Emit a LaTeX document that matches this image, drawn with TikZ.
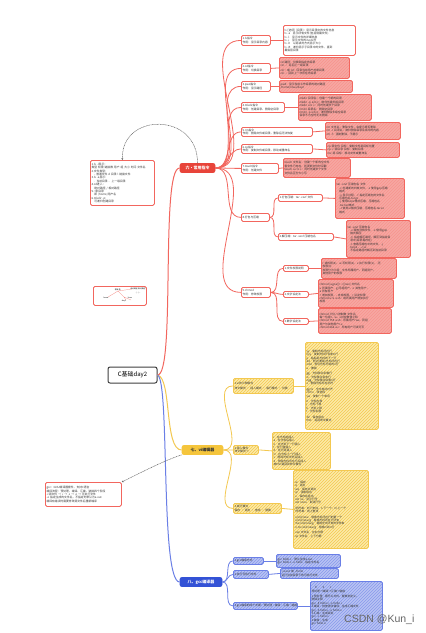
\documentclass[tikz,border=0pt]{standalone}
\usepackage{fontspec}
\newfontfamily\cjk{Noto Sans CJK SC}
\usetikzlibrary{patterns,arrows.meta}
\definecolor{rline}{HTML}{F2665E}
\definecolor{rfill}{HTML}{F7A7A2}
\definecolor{rdark}{HTML}{E8443A}
\definecolor{yline}{HTML}{F3C850}
\definecolor{yfill}{HTML}{FCEAA8}
\definecolor{ydark}{HTML}{F5C53C}
\definecolor{bline}{HTML}{6A7FE6}
\definecolor{bfill}{HTML}{B9C3F3}
\definecolor{bdark}{HTML}{3352D6}
\definecolor{txt}{HTML}{333333}
\tikzset{
  base/.style={font=\cjk\fontsize{2.8}{3.4}\selectfont, text=txt, align=left, inner sep=1.2pt, rounded corners=1.5pt, anchor=north west, line width=0.8pt},
  rlab/.style={base, draw=rline, fill=white},
  rdet/.style={base, draw=rline, preaction={fill=rfill}, pattern=north east lines, pattern color=rline!70},
  ylab/.style={base, draw=yline, preaction={fill=yfill}, pattern=north east lines, pattern color=yline},
  blab/.style={base, draw=bline, preaction={fill=bfill}, pattern=north east lines, pattern color=bline!80},
  note/.style={base, draw=rline, fill=white},
  rl/.style={draw=rline, line width=0.8pt},
  yl/.style={draw=yline, line width=0.8pt},
  bl/.style={draw=bline, line width=0.8pt},
  dl/.style={draw=gray!80!black, line width=0.5pt, dash pattern=on 1pt off 0.6pt, -{Stealth[length=2pt,width=2pt]}},
  mainb/.style={font=\cjk\fontsize{4}{4.5}\selectfont\bfseries, rounded corners=2pt, inner sep=1pt, minimum height=9pt, line width=0.8pt}
}
\begin{document}
\begin{tikzpicture}[x=1pt,y=-1pt]
\useasboundingbox[fill=white] (0,0) rectangle (426,633);

% central and main branches
\node[draw=black!75, fill=white, rounded corners=2pt, line width=1pt, minimum width=49pt, minimum height=16pt, font=\cjk\fontsize{6}{6}\selectfont, inner sep=0pt] (C) at (132.5,375) {C基础day2};
\node[mainb, fill=rdark, draw=rdark, text=white, minimum width=35pt] (R) at (197.5,168) {六·常用指令};
\node[mainb, fill=ydark, draw=ydark, text=txt, minimum width=41pt] (Y) at (202.5,450) {七、vi编辑器};
\node[mainb, fill=bdark, draw=bdark, text=white, minimum width=42pt] (B) at (201,582) {八、gcc编译器};

\draw[rl, line width=1pt] (C.east) .. controls (176,375) and (160,168) .. (R.west);
\draw[yl, line width=1pt] (C.east) .. controls (172,378) and (164,450) .. (Y.west);
\draw[bl, line width=1pt] (C.east) .. controls (170,380) and (160,582) .. (B.west);

% ---------- red branch ----------
\node[rlab, text width=26.6pt, minimum height=10pt] (r1) at (241,35) {1.ls指令\\作用：显示目录内容};
\node[rlab, text width=69.6pt, minimum height=30pt] (d1) at (283,25) {ls [选项] [目录]：显示目录中的文件信息\\ls -a\quad 显示所有文件(包括隐藏文件)\\ls -l\quad 显示文件的详细信息\\ls -i\quad 显示文件的inode号\\ls -h\quad 以易读的方式显示大小\\ls -R\quad 递归显示子目录中的文件，直到\\最底层目录};
\node[rlab, text width=26.6pt, minimum height=10pt] (r2) at (241,63) {2.cd指令\\作用：切换目录};
\node[rdet, text width=67.6pt, minimum height=21pt] (d2) at (279,57) {cd 路径：切换到指定的目录\\cd ..：返回上一级目录\\[1.5pt]cd \textasciitilde\ 或 cd：回到当前用户的家目录\\cd -：回到上一次所在的目录};
\node[rlab, text width=26.6pt, minimum height=10pt] (r3) at (241,81) {3.pwd指令\\作用：显示路径};
\node[rdet, text width=70.6pt, minimum height=12pt] (d3) at (279,80) {pwd：显示当前工作目录的绝对路径\\/home/linux/day2};
\node[rlab, text width=40.6pt, minimum height=10pt] (r4) at (241,102) {4.mkdir指令\\作用：创建目录、删除空目录};
\node[rdet, text width=70.6pt, minimum height=26pt] (d4) at (298,94) {mkdir 目录名：创建一个新的目录\\mkdir -p a/b/c：递归创建多级目录\\mkdir a b c：同时创建多个目录\\rmdir 目录名：删除空目录\\rmdir -p a/b/c：递归删除多级空目录\\目录不为空时无法删除};
\node[rlab, text width=68.6pt, minimum height=9pt] (r5) at (241,127) {5.rm指令\\作用：删除文件或目录，删除后无法恢复};
\node[rdet, text width=72.6pt, minimum height=17pt] (d5) at (325,122) {rm 文件名：删除文件，会提示是否删除\\rm -r 目录名：递归删除目录及其中的内容\\rm -f：强制删除，不提示};
\node[rlab, text width=68.6pt, minimum height=9pt] (r6) at (241,144) {6.cp指令\\作用：复制文件或目录，移动或重命名};
\node[rdet, text width=70.6pt, minimum height=15pt] (d6) at (326,142) {cp 源文件 目标：复制文件到目标位置\\cp -r 源目录 目标：复制目录\\mv 源 目标：移动文件或重命名};
\node[rlab, text width=34.6pt, minimum height=10pt] (r7) at (241,163) {7.touch指令\\作用：创建文件};
\node[rdet, text width=64.6pt, minimum height=19pt] (d7) at (283,158) {touch 文件名：创建一个新的空文件\\若文件已存在，则更新文件时间戳\\touch a.c b.c：同时创建多个文件\\文件名区分大小写};
\node[rlab, text width=25.6pt, minimum height=8pt] (r8) at (241,213) {8.打包与压缩};
\node[rlab, text width=41.6pt, minimum height=7pt] (r8a) at (278,194) {1.打包压缩：tar -czvf 文件};
\node[rdet, text width=66.6pt, minimum height=40pt] (d8a) at (335,178) {tar -czvf 压缩包名 文件\\\quad -c 创建新的归档文件，-z 使用gzip压缩\\\quad 格式\\\quad -v 显示过程，-f 指定压缩包的文件名\\\quad 压缩包名.tar.gz\\\quad -j 使用bzip2格式压缩，压缩包名\\\quad .tar.bz2格式\\\quad -J 使用xz格式压缩，压缩包名.tar.xz\\\quad 格式};
\node[rlab, text width=52.6pt, minimum height=7pt] (r8b) at (278,233) {2.解压缩：tar -xzvf 压缩包名};
\node[rdet, text width=61.6pt, minimum height=37pt] (d8b) at (346,220) {tar -xzvf 压缩包名\\\quad -x 释放归档文件，-z 使用gzip\\\quad 格式解压\\\quad -C 指定解压路径，解压到指定目\\\quad 录中(目录需存在)\\\quad -t 查看压缩包中的文件，-j\\\quad bzip2，-J xz\\\quad 不指定路径时解压到当前目录};
\node[rlab, text width=26.6pt, minimum height=10pt] (r9) at (241,287) {9.chmod\\作用：修改权限};
\node[rlab, text width=22.6pt, minimum height=6pt] (r9a) at (283,265) {1.文件权限说明};
\node[rdet, text width=72.6pt, minimum height=20pt] (d9a) at (321,258) {r 读权限(4)，w 写权限(2)，x 执行权限(1)，-无\\权限(0)\\权限分为三组：文件所属用户、同组用户、\\其他用户的权限};
\node[rlab, text width=22.6pt, minimum height=6pt] (r9b) at (283,291) {2.文字设定法};
\node[rdet, text width=72.6pt, minimum height=28pt] (d9b) at (318,279) {chmod [ugoa][+-=][rwx] 文件名\\u 所属用户，g 同组用户，o 其他用户，\\a 所有用户\\+ 增加权限，- 去掉权限，= 设定权限\\chmod u+x a.sh：给所属用户增加执行\\权限};
\node[rlab, text width=22.6pt, minimum height=6pt] (r9c) at (283,318) {3.数字设定法};
\node[rdet, text width=70.6pt, minimum height=25pt] (d9c) at (318,308) {chmod 三位八进制数 文件名\\每一位是r、w、x对应数值之和\\chmod 755 a.sh：所属用户rwx，同组\\用户与其他用户r-x\\chmod 666 a.c：所有用户可读可写};

\foreach \n in {r1,r2,r3,r4,r5,r6,r7,r8,r9} \draw[rl] (R.east) to[out=0,in=180] (\n.west);
\foreach \a/\b in {r1/d1,r2/d2,r3/d3,r4/d4,r5/d5,r6/d6,r7/d7,r8a/d8a,r8b/d8b,r9a/d9a,r9b/d9b,r9c/d9c} \draw[rl] (\a.east) -- (\b.west);
\foreach \n in {r8a,r8b} \draw[rl] (r8.east) to[out=0,in=180] (\n.west);
\foreach \n in {r9a,r9b,r9c} \draw[rl] (r9.east) to[out=0,in=180] (\n.west);

% notes (red branch)
\node[note, text width=61.6pt, minimum height=45pt] (n1) at (90,160) {1.ls -l显示：\\类型 权限 链接数 用户 组 大小 时间 文件名\\2.文件类型：\\\quad - 普通文件 d 目录 l 链接文件\\3.ls -a显示：\\\quad . 当前目录 .. 上一级目录\\4.cd进入：\\\quad 绝对路径 / 相对路径\\5.\textasciitilde 家目录\\\quad 即 /home/用户名\\6.mkdir -p：\\\quad 可递归创建目录};
\draw[dl] (R.north) .. controls (198,112) and (121,112) .. (n1.north);

\node[note, minimum width=53pt, minimum height=19pt] (img) at (93,286) {};
\begin{scope}[line width=0.25pt, draw=rline!80]
  \draw (118,291) -- (108,297) (118,291) -- (124,297) (118,291) -- (132,289) (124,297) -- (126,300) (124,297) -- (131,300);
\end{scope}
\node[font=\cjk\fontsize{1.8}{2}\selectfont, inner sep=0pt] at (118,290) {根目录/};
\node[font=\cjk\fontsize{1.8}{2}\selectfont, inner sep=0pt] at (106,298) {home};
\node[font=\cjk\fontsize{1.8}{2}\selectfont, inner sep=0pt] at (130,298) {linux};
\node[font=\cjk\fontsize{1.8}{2}\selectfont, inner sep=0pt] at (138,289) {绝对路径 相对路径};
\node[font=\cjk\fontsize{1.8}{2}\selectfont, inner sep=0pt] at (138,293) {./ ../ \textasciitilde};
\node[font=\cjk\fontsize{1.8}{2}\selectfont, inner sep=0pt] at (124,301) {day2};

% ---------- yellow branch ----------
\node[ylab, text width=57.6pt, minimum height=15pt] (y1) at (233,378) {1.vi的三种模式\\[2pt]命令模式 · 插入模式 · 底行模式 · 切换};
\node[ylab, text width=70.6pt, minimum height=87pt] (e1) at (305,342) {yy\quad 复制光标所在行\\nyy\quad 复制光标开始的n行\\p\quad 粘贴到光标的下一行\\dd\quad 剪切(删除)光标所在行\\ndd\quad 剪切光标开始的n行\\u\quad 撤销\\[2pt]gg\quad 光标移动到首行\\G\quad 光标移动到末行\\ngg\quad 光标移动到第n行\\x\quad 删除光标所在字符\\[2pt]gg=G\quad 全文自动对齐\\ctrl+v\quad 块选择\\yw\quad 复制一个单词\\[2pt]h\quad 光标左移\\j\quad 光标下移\\k\quad 光标上移\\l\quad 光标右移\\[2pt]ZZ\quad 保存退出\\ESC\quad 返回命令模式};
\node[ylab, text width=22.6pt, minimum height=9pt] (y2) at (233,445) {2.插入模式\\命令模式→};
\node[ylab, text width=55.6pt, minimum height=37pt] (e2) at (272,432) {i\quad 在光标前插入\\a\quad 在光标后插入\\o\quad 在光标下一行插入\\I\quad 在行首插入\\A\quad 在行尾插入\\O\quad 在光标上一行插入\\s\quad 删除光标字符后插入\\S\quad 删除光标所在行后插入\\按ESC键回到命令模式};
\node[ylab, text width=45.6pt, minimum height=10pt] (y3) at (233,503) {3.底行模式\\保存 · 退出 · 查找 · 替换};
\node[ylab, text width=72.6pt, minimum height=78pt] (e3) at (293,470) {:w\quad 保存\\:q\quad 退出\\:wq\quad 保存并退出\\:q!\quad 强制退出\\:x\quad 保存并退出\\:set nu\quad 显示行号\\:set nonu\quad 取消行号\\[2pt]/字符串：向下查找，n 下一个，N 上一个\\?字符串：向上查找\\[2pt]:s/old/new\quad 替换光标所在行的第一个\\:s/old/new/g\quad 替换光标所在行所有\\:\%s/old/new/g\quad 替换全文所有的字符串\\:n,ms/old/new/g\quad 替换n到m行\\[2pt]:vsp 文件名\quad 左右分屏\\:sp 文件名\quad 上下分屏};
\foreach \n in {y1,y2,y3} \draw[yl] (Y.east) to[out=0,in=180] (\n.west);
\foreach \a/\b in {y1/e1,y2/e2,y3/e3} \draw[yl] (\a.east) -- (\b.west);

% ---------- blue branch ----------
\node[blab, text width=27.6pt, minimum height=7pt] (b1) at (233,557) {1.gcc编译方式};
\node[blab, text width=61.6pt, minimum height=13pt] (f1) at (276,554) {gcc hello.c\quad 默认生成a.out\\gcc hello.c -o hello\quad 指定文件名};
\node[blab, text width=32.6pt, minimum height=8pt] (b2) at (233,570) {2.执行可执行文件};
\node[blab, text width=55.6pt, minimum height=10pt] (f2) at (280,568) {./a.out 或 ./hello\\运行当前目录下的可执行文件};
\node[blab, text width=61.6pt, minimum height=7pt] (b3) at (233,602) {3.gcc编译的四个步骤：预处理·编译·汇编·链接};
\node[blab, text width=69.6pt, minimum height=49pt] (f3) at (310,581) {\quad\ E\qquad S\qquad c\\预处理→编译→汇编→链接\\[2pt]1.预处理：展开头文件、替换宏定义、\\删除注释\\gcc -E hello.c -o hello.i\\2.编译：检查语法错误，生成汇编文件\\gcc -S hello.i -o hello.s\\3.汇编：生成目标\\gcc -c hello.s\\4.链接：生成\\gcc hello.o};
\foreach \n in {b1,b2,b3} \draw[bl] (B.east) to[out=0,in=180] (\n.west);
\foreach \a/\b in {b1/f1,b2/f2,b3/f3} \draw[bl] (\a.east) -- (\b.west);

% note (yellow branch)
\node[note, text width=73.6pt, minimum height=24pt] (n2) at (45,482) {gcc：GNU编译器套件，支持C语言\\编译流程：预处理、编译、汇编、链接四个阶段\\.c源文件 → .i → .s → .o → 可执行文件\\-o 指定生成的文件名，不指定时默认为a.out\\编译有错误时需要修改源文件后重新编译};
\draw[dl] (Y.south west) .. controls (165,460) and (138,474) .. (n2.north east);

% watermark
\node[font=\fontspec{Liberation Sans}\fontsize{10.5}{10.5}\selectfont, text=black!60, anchor=base west, inner sep=0pt] (wm) at (344,622) {CSDN @Kun\_i};
\end{tikzpicture}
\end{document}
